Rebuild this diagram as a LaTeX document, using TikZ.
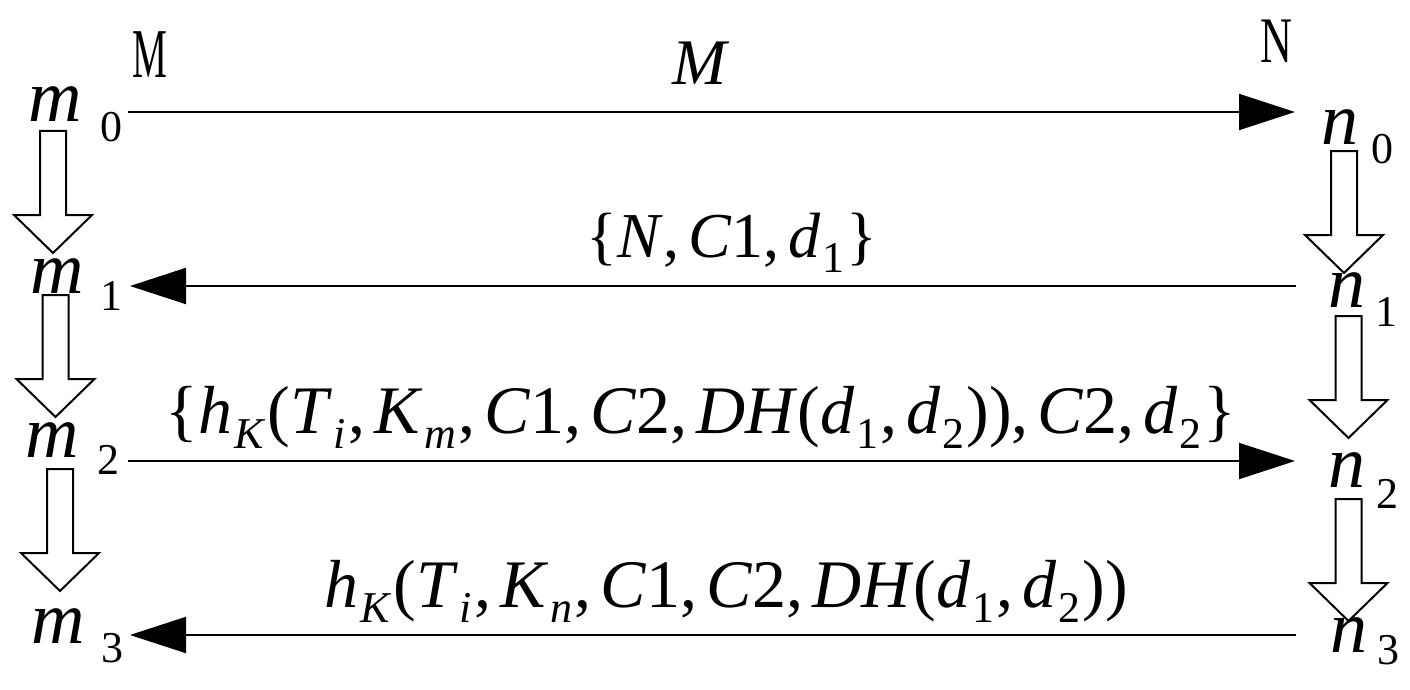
\documentclass[tikz,border=0pt]{standalone}
\usepackage{fontspec}
\setmainfont{Liberation Serif}
\usepackage{graphicx}
\usetikzlibrary{arrows.meta}
\newcommand\fsz[1]{\fontsize{#1}{#1}\selectfont}
\newcommand\lsub[1]{\hspace{2pt}\raisebox{-15pt}{\fsz{44}#1}\hspace{2pt}}
\newcommand\li[1]{\textit{#1}}
\newcommand\cm{,\hspace{9pt}}
\tikzset{
  x=1pt, y=-1pt,
  msg/.style={line width=2pt, -{Triangle[length=56pt,width=36pt]}},
  blk/.style={draw, line width=2pt, fill=white, line join=miter},
  blockarrow/.pic={\draw[blk] (-13,0) -- (13,0) -- (13,84) -- (39,84) -- (0,122) -- (-39,84) -- (-13,84) -- cycle;},
  party/.style={inner sep=0, anchor=base west, font=\fsz{74}\itshape},
  idx/.style={inner sep=0, anchor=base west, font=\fsz{44}},
  lab/.style={inner sep=0, anchor=base, font=\fsz{68}},
  side/.style={inner sep=0, anchor=base},
}
\begin{document}
\begin{tikzpicture}
\useasboundingbox (0,0) rectangle (1410,690);
\fill[white] (0,0) rectangle (1410,690);

% block arrows (state transitions)
\pic at (53,131) {blockarrow};
\pic at (55.5,295) {blockarrow};
\pic at (60,469) {blockarrow};
\pic at (1344,151) {blockarrow};
\pic at (1348.5,316) {blockarrow};
\pic at (1348.5,499) {blockarrow};

% party headers
\node[side] (hM) at (150,78) {\scalebox{0.56}[1]{\fsz{70}M}};
\node[side] (hN) at (1276,63) {\scalebox{0.68}[1]{\fsz{65}N}};

% states
\node[party] (m0) at (28,122) {m};
\node[idx]   (m0s) at (100,142) {0};
\node[party] (m1) at (30,293) {m};
\node[idx]   (m1s) at (100,310) {1};
\node[party] (m2) at (25,457) {m};
\node[idx]   (m2s) at (97,474) {2};
\node[party] (m3) at (31,643) {m};
\node[idx]   (m3s) at (101,662) {3};

\node[party] (n0) at (1321,145) {n};
\node[idx]   (n0s) at (1371,164) {0};
\node[party] (n1) at (1328,307) {n};
\node[idx]   (n1s) at (1375,326) {1};
\node[party] (n2) at (1328,487) {n};
\node[idx]   (n2s) at (1376,508) {2};
\node[party] (n3) at (1330,652) {n};
\node[idx]   (n3s) at (1377,664) {3};

% message end points
\coordinate (a1s) at (128,112);  \coordinate (a1e) at (1295,112);
\coordinate (a2s) at (1296,286); \coordinate (a2e) at (130,286);
\coordinate (a3s) at (128,461);  \coordinate (a3e) at (1295,461);
\coordinate (a4s) at (1296,635); \coordinate (a4e) at (130,635);

\draw[msg] (a1s) -- (a1e);
\draw[msg] (a2s) -- (a2e);
\draw[msg] (a3s) -- (a3e);
\draw[msg] (a4s) -- (a4e);

% message labels
\node[side] (l1) at (700,85) {\fsz{65}\itshape M};
\node[lab] (l2) at (732,257) {\fsz{64}\{\li{N}\cm\li{C}1\cm\li{d}\lsub{1}\}};
\node[lab] (l3) at (701,433) {\{\li{h}\lsub{\li{K}}(\li{T}\lsub{\li{i}}\cm\li{K}\lsub{\li{m}}\cm\li{C}1\cm\li{C}2\cm\li{DH}(\li{d}\lsub{1}\cm\li{d}\lsub{2}))\cm\li{C}2\cm\li{d}\lsub{2}\}};
\node[lab] (l4) at (726,607) {\li{h}\lsub{\li{K}}(\li{T}\lsub{\li{i}}\cm\li{K}\lsub{\li{n}}\cm\li{C}1\cm\li{C}2\cm\li{DH}(\li{d}\lsub{1}\cm\li{d}\lsub{2}))};
\end{tikzpicture}
\end{document}
